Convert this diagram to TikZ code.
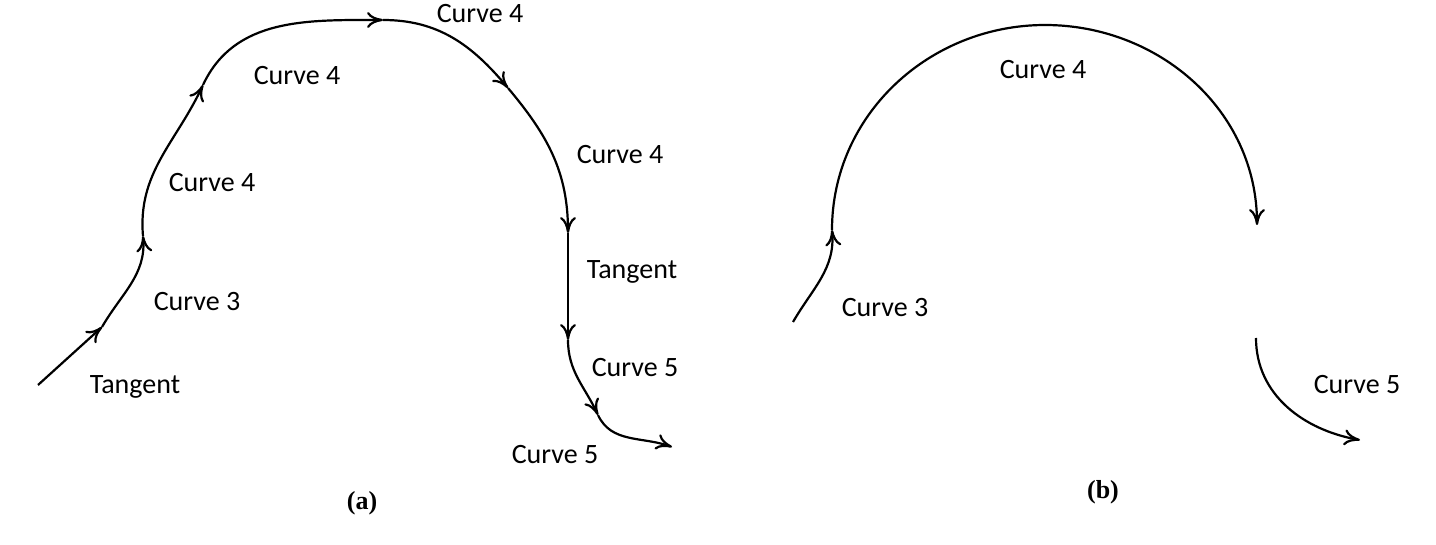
\documentclass[tikz,border=0pt]{standalone}
\usepackage{fontspec}
\setmainfont{Carlito}
\newfontfamily\capfont{Liberation Serif}
\usetikzlibrary{arrows.meta}
\begin{document}
\begin{tikzpicture}[x=0.5pt,y=0.5pt,
  seg/.style={line width=1.1pt,-{To[length=8pt,width=8pt]}},
  lab/.style={font=\fontsize{14}{16}\selectfont,inner sep=0pt},
  captext/.style={font=\capfont\bfseries\fontsize{13}{15}\selectfont}]
\useasboundingbox (0,0) rectangle (1436,-545);
% (a)
\coordinate (a0) at (38,-385);
\coordinate (a1) at (102,-327);
\coordinate (a2) at (143,-236);
\coordinate (a3) at (203,-85);
\coordinate (a4) at (383,-20);
\coordinate (a5) at (508,-88);
\coordinate (a6) at (568,-233);
\coordinate (a7) at (568,-340);
\coordinate (a8) at (598,-415);
\coordinate (a9) at (672,-447);
\draw[seg] (a0) -- (a1);
\draw[seg] (a1) to[out=60,in=-85] (a2);
\draw[seg] (a2) to[out=95,in=-115] (a3);
\draw[seg] (a3) to[out=65,in=180] (a4);
\draw[seg] (a4) to[out=0,in=130] (a5);
\draw[seg] (a5) to[out=-50,in=90] (a6);
\draw[seg] (a6) -- (a7);
\draw[seg] (a7) to[out=-90,in=115] (a8);
\draw[seg] (a8) to[out=-65,in=160] (a9);
\node[lab] (t1) at (135,-387) {Tangent};
\node[lab] (c3) at (197,-302) {Curve 3};
\node[lab] (c4a) at (212,-183) {Curve 4};
\node[lab] (c4b) at (297,-76) {Curve 4};
\node[lab] (c4c) at (480,-14) {Curve 4};
\node[lab] (c4d) at (620,-155) {Curve 4};
\node[lab] (t2) at (632,-272) {Tangent};
\node[lab] (c5a) at (635,-368) {Curve 5};
\node[lab] (c5b) at (555,-455) {Curve 5};
\node[captext] (capa) at (362,-503) {(a)};
% (b)
\coordinate (b0) at (793,-322);
\coordinate (b1) at (832,-230);
\coordinate (b2) at (1257,-225);
\coordinate (b3) at (1256,-338);
\coordinate (b4) at (1360,-440);
\draw[seg] (b0) to[out=60,in=-85] (b1);
\draw[seg] (b1) to[out=90,in=180] (1045,-25) to[out=0,in=90] (b2);
\draw[seg] (b3) to[out=-90,in=170] (b4);
\node[lab] (bc3) at (885,-308) {Curve 3};
\node[lab] (bc4) at (1043,-70) {Curve 4};
\node[lab] (bc5) at (1357,-385) {Curve 5};
\node[captext] (capb) at (1103,-492) {(b)};
\end{tikzpicture}
\end{document}
